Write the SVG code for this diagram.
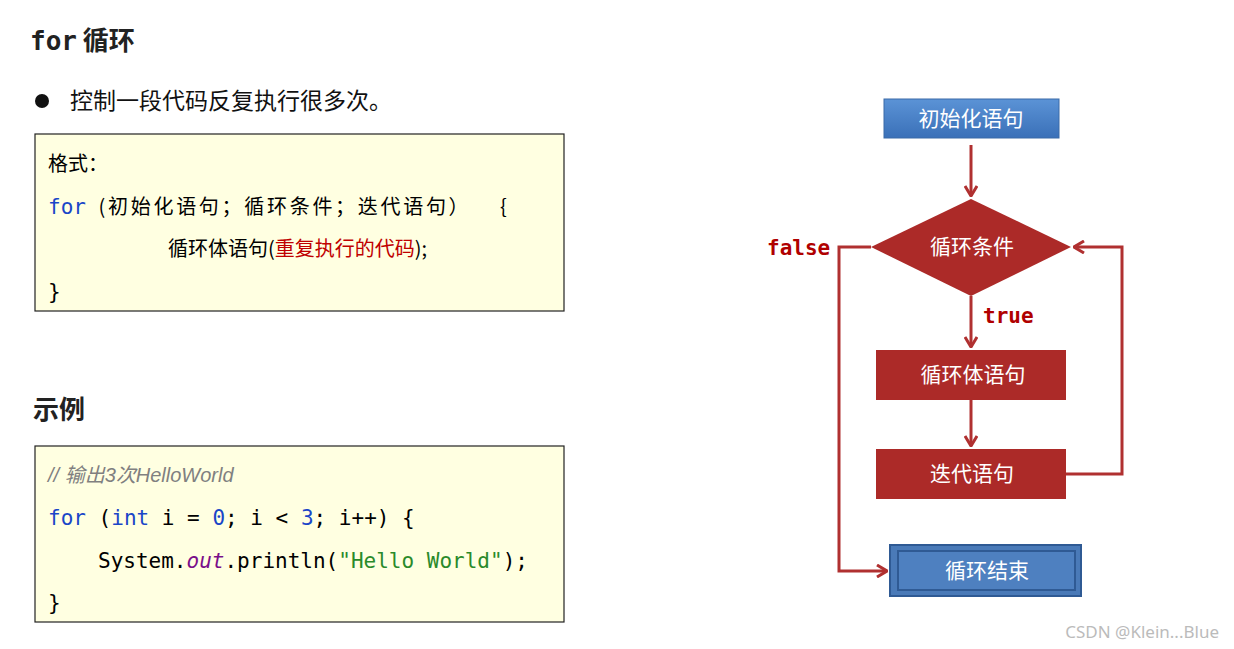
<svg xmlns="http://www.w3.org/2000/svg" width="1234" height="649" viewBox="0 0 1234 649">
<style>
.t{font-family:"Noto Sans CJK SC","Noto Sans",sans-serif;}
.m{font-family:"DejaVu Sans Mono","Noto Sans CJK SC",monospace;}
.code{font-family:"DejaVu Sans Mono","Noto Sans CJK SC",monospace;font-size:21px;fill:#000;}
.box{fill:#ffffe1;stroke:#222;stroke-width:1.2;}
.lbl{font-family:"Noto Sans CJK SC",sans-serif;font-size:21px;fill:#fff;text-anchor:middle;}
.ln{fill:none;stroke:#b03030;stroke-width:3;}
.red{fill:#ac2a28;}
</style>
<defs>
<marker id="ah" markerWidth="12" markerHeight="14" refX="11" refY="7" orient="auto" markerUnits="userSpaceOnUse">
<path d="M1,1 L11,7 L1,13" fill="none" stroke="#b03030" stroke-width="3"/>
</marker>
<linearGradient id="bg" x1="0" y1="0" x2="0" y2="1">
<stop offset="0" stop-color="#5b93d6"/><stop offset="1" stop-color="#3a70b8"/>
</linearGradient>
</defs>
<rect width="1234" height="649" fill="#fff"/>
<text x="30" y="50" class="t" font-size="26" font-weight="bold" fill="#222"><tspan class="m">for</tspan> 循环</text>
<circle cx="42" cy="101" r="7" fill="#111"/>
<text x="70" y="109" class="t" font-size="23" fill="#111">控制一段代码反复执行很多次。</text>
<rect x="35" y="134" width="529" height="177" class="box"/>
<text x="48" y="171" class="t" font-size="20" fill="#000">格式：</text>
<text x="48" y="214" class="code"><tspan fill="#1a46c8">for</tspan> <tspan class="t" font-size="20" textLength="370">(初始化语句；循环条件；迭代语句）</tspan><tspan class="t" font-size="20" x="500">{</tspan></text>
<text x="168" y="256" class="t" font-size="20" fill="#000">循环体语句(<tspan fill="#c00000">重复执行的代码</tspan>);</text>
<text x="48" y="299" class="code">}</text>
<text x="33" y="419" class="t" font-size="26" font-weight="bold" fill="#222">示例</text>
<rect x="35" y="446" width="529" height="176" class="box"/>
<text x="48" y="482" font-family="Liberation Sans,Noto Sans CJK SC,sans-serif" font-style="italic" font-size="20" fill="#808080">// 输出3次HelloWorld</text>
<text x="48" y="525" class="code"><tspan fill="#1a46c8">for</tspan> (<tspan fill="#1a46c8">int</tspan> i = <tspan fill="#1a46c8">0</tspan>; i &lt; <tspan fill="#1a46c8">3</tspan>; i++) {</text>
<text x="98" y="568" class="code">System.<tspan fill="#7a0f8a" font-style="italic">out</tspan>.println(<tspan fill="#2a8a2a">"Hello World"</tspan>);</text>
<text x="48" y="610" class="code">}</text>
<g id="connectors">
<path class="ln" d="M971,145 V196" marker-end="url(#ah)"/>
<path class="ln" d="M971,296 V347" marker-end="url(#ah)"/>
<path class="ln" d="M971,400 V446" marker-end="url(#ah)"/>
<path class="ln" d="M1066,474 H1122 V247 H1074" marker-end="url(#ah)"/>
<path class="ln" d="M871,247 H839 V571 H887" marker-end="url(#ah)"/>
<text x="767" y="255" class="m" font-size="21" font-weight="bold" fill="#b00000">false</text>
<text x="983" y="323" class="m" font-size="21" font-weight="bold" fill="#b00000">true</text>
</g>
<g id="init"><rect x="884" y="99" width="175" height="39" fill="url(#bg)" stroke="#3a6aa8"/><text x="971" y="126" class="lbl">初始化语句</text></g>
<g id="cond"><polygon points="971,199 1071,247 971,296 871,247" class="red"/><text x="972" y="254" class="lbl">循环条件</text></g>
<g id="body"><rect x="876" y="350" width="190" height="50" class="red"/><text x="973" y="382" class="lbl">循环体语句</text></g>
<g id="iter"><rect x="876" y="449" width="190" height="50" class="red"/><text x="972" y="481" class="lbl">迭代语句</text></g>
<g id="end"><rect x="890" y="545" width="191" height="51" fill="#4a7ab8" stroke="#2f5a94" stroke-width="2"/><rect x="898" y="551" width="177" height="39" fill="#4e80c0" stroke="#2f5a94" stroke-width="2"/><text x="987" y="578" class="lbl">循环结束</text></g>
<text x="1219" y="638" font-family="Noto Sans,sans-serif" font-size="17" fill="#bbb" text-anchor="end">CSDN @Klein...Blue</text>
</svg>
